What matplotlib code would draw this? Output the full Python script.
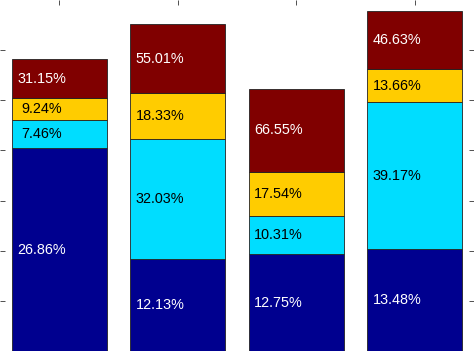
import numpy as np
import matplotlib
matplotlib.use('Agg')
import matplotlib.pyplot as plt

# stacked segment heights (axis runs 0..7)
groups = [1, 2, 3, 4]
blue = [4.04, 1.83, 1.93, 2.03]
cyan = [0.56, 2.40, 0.76, 2.93]
yellow = [0.44, 0.91, 0.88, 0.66]
red = [0.78, 1.38, 1.66, 1.17]

# percentage labels written on each segment
blue_lbl = ['26.86%', '12.13%', '12.75%', '13.48%']
cyan_lbl = ['7.46%', '32.03%', '10.31%', '39.17%']
yellow_lbl = ['9.24%', '18.33%', '17.54%', '13.66%']
red_lbl = ['31.15%', '55.01%', '66.55%', '46.63%']

plt.rcParams['font.family'] = ['Liberation Sans', 'DejaVu Sans']

fig = plt.figure(figsize=(4.74, 3.51), dpi=100)
ax = fig.add_axes([0, 0, 1, 1])

x = np.array(groups)
series = [(blue, '#00008F', blue_lbl, 'white'),
          (cyan, '#00DDFF', cyan_lbl, 'black'),
          (yellow, '#FFCC00', yellow_lbl, 'black'),
          (red, '#800000', red_lbl, 'white')]

bottom = np.zeros(len(x))
for vals, col, lbls, tcol in series:
    vals = np.array(vals)
    ax.bar(x, vals, width=0.8, bottom=bottom, color=col,
           edgecolor='#222222', linewidth=0.6)
    for xi, b, v, t in zip(x, bottom, vals, lbls):
        ax.text(xi - 0.15, b + v / 2, t, ha='center', va='center',
                color=tcol, fontsize=10.4)
    bottom = bottom + vals

ax.set_xlim(0.5, 4.5)
ax.set_ylim(0, 7)
ax.set_xticks(groups)
ax.set_yticks(range(1, 7))
ax.tick_params(direction='in', length=3.6, width=0.6, color='#333333',
               top=True, bottom=False, right=True,
               labelbottom=False, labelleft=False)
for s in ax.spines.values():
    s.set_visible(False)

fig.savefig('out.png', dpi=100)
